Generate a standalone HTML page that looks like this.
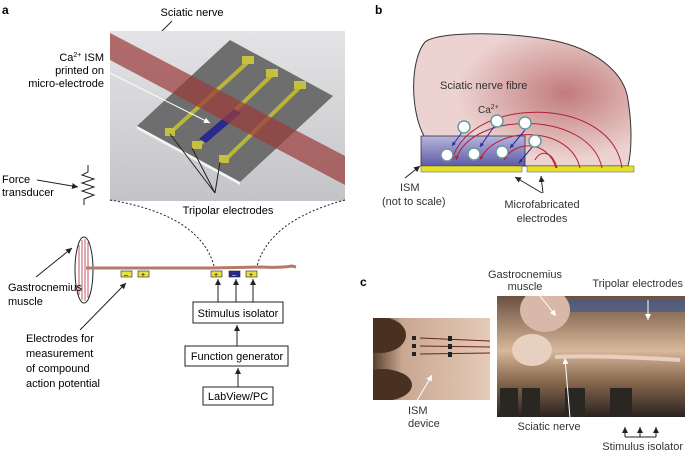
<!DOCTYPE html>
<html><head><meta charset="utf-8"><style>
body{margin:0;background:#fff;}
svg{display:block;font-family:"Liberation Sans",sans-serif;}
</style></head><body>
<svg width="685" height="453" viewBox="0 0 685 453" xmlns="http://www.w3.org/2000/svg">
<defs>
<marker id="ar" markerWidth="8" markerHeight="8" refX="6" refY="3" orient="auto" markerUnits="userSpaceOnUse"><path d="M0,0 L6,3 L0,6 Z" fill="#222"/></marker>
<marker id="aw" markerWidth="8" markerHeight="8" refX="6" refY="3" orient="auto" markerUnits="userSpaceOnUse"><path d="M0,0 L6,3 L0,6 Z" fill="#fff"/></marker>
<marker id="ab" markerWidth="6" markerHeight="6" refX="4" refY="2" orient="auto" markerUnits="userSpaceOnUse"><path d="M0,0 L4,2 L0,4 Z" fill="#2a2a9a"/></marker>
<marker id="arr" markerWidth="6" markerHeight="6" refX="4" refY="2" orient="auto" markerUnits="userSpaceOnUse"><path d="M0,0 L4,2 L0,4 Z" fill="#b0203a"/></marker>
<linearGradient id="bg" x1="0" y1="0" x2="0" y2="1"><stop offset="0" stop-color="#e4e4e6"/><stop offset="1" stop-color="#c4c4c8"/></linearGradient>
<linearGradient id="isg" x1="0" y1="0" x2="0" y2="1"><stop offset="0" stop-color="#b8b4dc"/><stop offset="1" stop-color="#5e5aa8"/></linearGradient>
<radialGradient id="blob" cx="0.7" cy="0.45" r="0.5"><stop offset="0" stop-color="#c17b7b"/><stop offset="1" stop-color="#ecd2d0"/></radialGradient>
<linearGradient id="ph1" x1="0" y1="0" x2="1" y2="0"><stop offset="0" stop-color="#5a4030"/><stop offset="0.25" stop-color="#c9a892"/><stop offset="1" stop-color="#e4cbb8"/></linearGradient>
<linearGradient id="ph2" x1="0" y1="0" x2="0" y2="1"><stop offset="0" stop-color="#6a5040"/><stop offset="0.45" stop-color="#d8b89a"/><stop offset="0.7" stop-color="#8a6a50"/><stop offset="1" stop-color="#2a2220"/></linearGradient>
<clipPath id="c1"><rect x="373" y="318" width="117" height="82"/></clipPath>
<clipPath id="c2"><rect x="497" y="296" width="188" height="121"/></clipPath>
</defs>

<!-- Panel a -->
<text x="2" y="14" font-size="12" font-weight="bold">a</text>
<text x="192" y="16" font-size="11" text-anchor="middle">Sciatic nerve</text>
<line x1="172" y1="21" x2="150" y2="43" stroke="#222" marker-end="url(#ar)"/>
<rect x="110" y="31" width="235" height="170" fill="url(#bg)"/>
<polygon points="137,126 230,40 333,96 240,182" fill="#6e6e6e"/>
<polygon points="137,126 240,182 240,185 137,129" fill="#f4f4f4"/>
<g stroke="#b9b43a" stroke-width="4">
<line x1="170" y1="133" x2="248" y2="62"/><line x1="198" y1="146" x2="272" y2="75"/><line x1="225" y1="160" x2="300" y2="87"/>
</g>
<g fill="#c6c040"><rect x="242" y="56" width="12" height="8"/><rect x="266" y="69" width="12" height="8"/><rect x="294" y="81" width="12" height="8"/>
<rect x="165" y="128" width="10" height="8"/><rect x="192" y="141" width="10" height="8"/><rect x="219" y="155" width="10" height="8"/></g>
<polygon points="199,139 234,109 241,113 206,143" fill="#2a2a8c"/>
<polygon points="110,33 110,60 345,185 345,156" fill="#9b3b3b" opacity="0.72"/>
<text x="104" y="61" font-size="11" text-anchor="end">Ca<tspan font-size="7" dy="-4">2+</tspan><tspan dy="4"> ISM</tspan></text>
<text x="104" y="74" font-size="11" text-anchor="end">printed on</text>
<text x="104" y="87" font-size="11" text-anchor="end">micro-electrode</text>
<line x1="110" y1="73" x2="210" y2="123" stroke="#fff" stroke-width="1" marker-end="url(#aw)"/>
<g stroke="#222"><line x1="215" y1="193" x2="170" y2="134"/><line x1="215" y1="193" x2="192" y2="148"/><line x1="215" y1="193" x2="220" y2="162"/></g>
<text x="228" y="214" font-size="11" text-anchor="middle">Tripolar electrodes</text>
<path d="M110,200 Q200,215 214,266" fill="none" stroke="#222" stroke-dasharray="2,2"/>
<path d="M345,200 Q270,220 257,266" fill="none" stroke="#222" stroke-dasharray="2,2"/>
<text x="2" y="183" font-size="11">Force</text>
<text x="2" y="196" font-size="11">transducer</text>
<line x1="37" y1="180" x2="78" y2="187" stroke="#222" marker-end="url(#ar)"/>
<polyline points="88,165 88,172 82,175 94,179 82,183 94,187 82,191 94,195 84,199 84,205" fill="none" stroke="#222"/>
<ellipse cx="84" cy="270" rx="9" ry="33" fill="#fff" stroke="#222"/>
<g stroke="#b03040" stroke-width="0.8"><line x1="79" y1="245" x2="79" y2="295"/><line x1="82" y1="240" x2="82" y2="300"/><line x1="85" y1="239" x2="85" y2="301"/><line x1="88" y1="242" x2="88" y2="298"/></g>
<path d="M86,268 L210,268 L260,267 Q280,268 292,266 L296,267" fill="none" stroke="#b77a66" stroke-width="3"/>
<g stroke="#222" stroke-width="0.6"><rect x="121" y="271" width="11" height="6" fill="#e8e040"/><rect x="138" y="271" width="11" height="6" fill="#e8e040"/>
<rect x="211" y="271" width="11" height="6" fill="#e8e040"/><rect x="229" y="271" width="11" height="6" fill="#2a2a8c"/><rect x="246" y="271" width="11" height="6" fill="#e8e040"/></g>
<g font-size="7" text-anchor="middle"><text x="126" y="277">–</text><text x="143" y="277">+</text><text x="216" y="277">+</text><text x="234" y="277" fill="#fff">–</text><text x="251" y="277">+</text></g>
<line x1="36" y1="277" x2="72" y2="248" stroke="#222" marker-end="url(#ar)"/>
<text x="8" y="291" font-size="11">Gastrocnemius</text>
<text x="8" y="305" font-size="11">muscle</text>
<line x1="80" y1="330" x2="126" y2="283" stroke="#222" marker-end="url(#ar)"/>
<text x="26" y="342" font-size="11">Electrodes for</text>
<text x="26" y="357" font-size="11">measurement</text>
<text x="26" y="372" font-size="11">of compound</text>
<text x="26" y="387" font-size="11">action potential</text>
<g stroke="#222" marker-end="url(#ar)"><line x1="218" y1="302" x2="218" y2="279"/><line x1="236" y1="302" x2="236" y2="279"/><line x1="253" y1="302" x2="253" y2="279"/>
<line x1="237" y1="346" x2="237" y2="325"/><line x1="238" y1="387" x2="238" y2="368"/></g>
<rect x="193" y="302" width="90" height="21" fill="#fff" stroke="#222"/>
<text x="238" y="317" font-size="11" text-anchor="middle">Stimulus isolator</text>
<rect x="185" y="346" width="103" height="20" fill="#fff" stroke="#222"/>
<text x="237" y="360" font-size="11" text-anchor="middle">Function generator</text>
<rect x="203" y="387" width="70" height="18" fill="#fff" stroke="#222"/>
<text x="238" y="400" font-size="11" text-anchor="middle">LabView/PC</text>

<!-- Panel b -->
<text x="375" y="14" font-size="12" font-weight="bold">b</text>
<path d="M424,136 C410,110 410,60 425,42 C440,30 520,32 560,42 C600,52 625,75 628,100 C632,125 632,150 628,166 L421,166 Z" fill="url(#blob)" stroke="#333" stroke-width="1"/>
<rect x="421" y="136" width="104" height="30" fill="url(#isg)" stroke="#333" stroke-width="0.8"/>
<rect x="421" y="166" width="101" height="6" fill="#e6e028" stroke="#555" stroke-width="0.5"/>
<rect x="527" y="166" width="107" height="6" fill="#e6e028" stroke="#555" stroke-width="0.5"/>
<text x="440" y="89" font-size="11" fill="#333">Sciatic nerve fibre</text>
<text x="478" y="113" font-size="10" fill="#333">Ca<tspan font-size="7" dy="-4">2+</tspan></text>
<g fill="none" stroke="#b0203a" stroke-width="1" marker-end="url(#arr)">
<path d="M602,168 C590,110 470,110 456,160"/>
<path d="M580,168 C570,125 495,125 480,160"/>
<path d="M556,168 C548,140 515,140 504,160"/>
</g>
<path d="M557,168 C552,150 540,150 535,160" fill="none" stroke="#b0203a"/>
<path d="M622,168 C612,95 470,95 452,160" fill="none" stroke="#b0203a" marker-end="url(#arr)"/>
<g stroke="#2a2a9a" marker-end="url(#ab)"><line x1="463" y1="131" x2="452" y2="146"/><line x1="495" y1="125" x2="480" y2="147"/><line x1="525" y1="130" x2="510" y2="148"/><line x1="533" y1="146" x2="519" y2="163"/></g>
<g fill="#fff" stroke="#6a9a9a" stroke-width="1.5">
<circle cx="464" cy="127" r="6"/><circle cx="497" cy="121" r="6"/><circle cx="525" cy="123" r="6"/><circle cx="535" cy="141" r="6"/>
<circle cx="447" cy="155" r="6"/><circle cx="474" cy="154" r="6"/><circle cx="502" cy="152" r="6"/></g>
<line x1="405" y1="178" x2="420" y2="166" stroke="#222" marker-end="url(#ar)"/>
<text x="400" y="191" font-size="11" fill="#333">ISM</text>
<text x="382" y="205" font-size="11" fill="#333">(not to scale)</text>
<line x1="542" y1="193" x2="515" y2="177" stroke="#222" marker-end="url(#ar)"/>
<line x1="543" y1="193" x2="541" y2="176" stroke="#222" marker-end="url(#ar)"/>
<text x="542" y="208" font-size="11" fill="#333" text-anchor="middle">Microfabricated</text>
<text x="542" y="222" font-size="11" fill="#333" text-anchor="middle">electrodes</text>

<!-- Panel c -->
<text x="360" y="286" font-size="12" font-weight="bold">c</text>
<g clip-path="url(#c1)">
<rect x="373" y="318" width="117" height="82" fill="url(#ph1)"/>
<ellipse cx="380" cy="335" rx="26" ry="18" fill="#4a3020"/>
<ellipse cx="382" cy="385" rx="30" ry="16" fill="#4a3020"/>
<g stroke="#6a2020" stroke-width="1"><line x1="420" y1="338" x2="490" y2="341"/><line x1="420" y1="346" x2="490" y2="347"/><line x1="420" y1="354" x2="490" y2="353"/></g>
<g fill="#222"><rect x="412" y="336" width="4" height="4"/><rect x="412" y="344" width="4" height="4"/><rect x="412" y="352" width="4" height="4"/><rect x="448" y="336" width="4" height="5"/><rect x="448" y="344" width="4" height="5"/><rect x="448" y="352" width="4" height="5"/></g>
</g>
<line x1="415" y1="404" x2="432" y2="375" stroke="#fff" marker-end="url(#aw)"/>
<text x="408" y="414" font-size="11" fill="#333">ISM</text>
<text x="408" y="427" font-size="11" fill="#333">device</text>
<g clip-path="url(#c2)">
<rect x="497" y="296" width="188" height="121" fill="url(#ph2)"/>
<rect x="545" y="300" width="140" height="12" fill="#3a5a9a" opacity="0.6"/>
<ellipse cx="545" cy="310" rx="25" ry="22" fill="#d8b8a8"/>
<ellipse cx="532" cy="350" rx="20" ry="16" fill="#e8d0c0"/>
<path d="M555,357 Q600,355 680,360" stroke="#e8d0c0" stroke-width="4" fill="none"/>
<g fill="#2a2622"><rect x="500" y="388" width="18" height="29"/><rect x="522" y="388" width="18" height="29"/><rect x="565" y="388" width="20" height="29"/><rect x="610" y="388" width="22" height="29"/></g>
</g>
<line x1="540" y1="296" x2="556" y2="316" stroke="#fff" marker-end="url(#aw)"/>
<line x1="570" y1="418" x2="565" y2="358" stroke="#fff" marker-end="url(#aw)"/>
<line x1="648" y1="300" x2="648" y2="320" stroke="#fff" marker-end="url(#aw)"/>
<text x="525" y="278" font-size="11" fill="#333" text-anchor="middle">Gastrocnemius</text>
<text x="525" y="290" font-size="11" fill="#333" text-anchor="middle">muscle</text>
<text x="683" y="287" font-size="11" fill="#333" text-anchor="end">Tripolar electrodes</text>
<text x="549" y="430" font-size="11" fill="#333" text-anchor="middle">Sciatic nerve</text>
<g stroke="#222" marker-end="url(#ar)"><line x1="625" y1="437" x2="625" y2="427"/><line x1="640" y1="437" x2="640" y2="427"/><line x1="656" y1="437" x2="656" y2="427"/></g>
<line x1="625" y1="437" x2="656" y2="437" stroke="#222"/>
<text x="683" y="450" font-size="11" fill="#333" text-anchor="end">Stimulus isolator</text>
</svg>
</body></html>
